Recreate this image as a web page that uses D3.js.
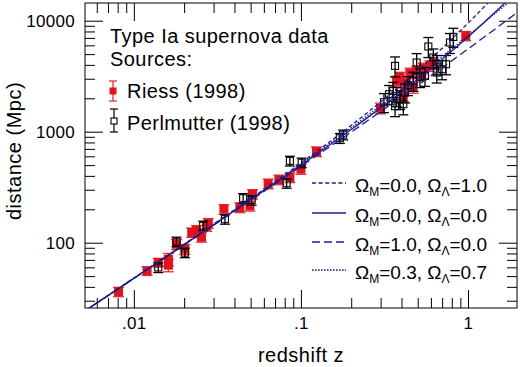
<!DOCTYPE html>
<html><head><meta charset="utf-8">
<script src="https://cdn.jsdelivr.net/npm/d3@7"></script>
<style>
html,body{margin:0;padding:0;background:#fff;}
svg{display:block;font-family:"Liberation Sans",Arial,sans-serif;}
</style></head>
<body>
<script>
// ---- data ----
const riessZ = [0.0081,0.0120,0.0140,0.0161,0.0161,0.0180,0.0202,0.0222,0.0237,0.0254,0.0273,0.0279,0.0346,0.0431,0.0495,0.0513,0.0637,0.0738,0.0859,0.100,0.124,0.299,0.374,0.392,0.420,0.449,0.493,0.528,0.540,0.592,0.620,0.470,0.410,0.970];
const riessD = [36.1,55.7,66.3,71.0,62.7,96.9,87.4,123.6,129.6,112.1,140.8,149.8,200.4,207.6,214.6,273.5,340.1,369.4,386.7,459.4,663.0,1628,2851,3097,2735,3366,3508,3296,3733,3917,4202,2503,2101,7295];
const riessErr = [3.5,5,6,9,8,10,9,12,13,11,14,15,20,21,22,27,34,37,39,46,66,180,310,330,300,370,380,360,410,430,460,280,230,700];

const perlZ = [0.0140,0.0180,0.0202,0.0260,0.0351,0.0451,0.0507,0.0821,0.0859,0.101,0.171,0.179,0.366,0.493,0.579,0.780,0.817,0.357,0.366,0.410,0.374,0.471,0.553,0.650,0.650,0.620,0.420,0.314,0.437,0.516,0.699,0.739,0.392,0.337];
const perlD = [59.8,102.1,81.3,142.3,162.8,251.7,241.5,343.6,545.8,525.7,873.9,939.7,3915,4202,5857,6363,7145,2331,1697,1769,2088,2869,3182,3415,4056,4661,2255,1845,2624,3097,3656,4056,1963,2177];
const perlErr = [6,10,8,14,16,25,24,34,55,52,90,95,800,850,1200,1300,1400,450,330,350,410,560,620,670,800,900,440,360,510,600,720,800,380,430];

const modelZ = [0.005,0.01,0.02,0.05,0.1,0.2,0.3,0.5,0.7,1.0,1.5,2.0];
const modelM0L1 = [23.88,47.98,96.90,249.4,522.5,1140,1853,3563,5653,9501,17814,28502];
const modelM0L0 = [23.81,47.74,95.95,243.5,498.8,1045,1639,2969,4489,7126,12469,19001];
const modelM1L0 = [23.78,47.62,95.48,240.4,486.4,993.3,1518,2615,3764,5565,8730,12047];
const modelM3L7 = [23.84,47.87,96.48,246.7,510.6,1087,1722,3142,4725,7329,12101,17236];

const xMajor = [0.01,0.1,1];
const xMajorLabels = [".01",".1","1"];
const yMajor = [100,1000,10000];
const yMajorLabels = ["100","1000","10000"];

// ---- layout ----
const W=523,H=367, L=85,R=517,T=3,B=308;
const svg = d3.select("body").append("svg").attr("width",W).attr("height",H);
const x = d3.scaleLog().domain([0.0051,1.965]).range([L,R]);
const y = d3.scaleLog().domain([25.8,14440]).range([B,T]);

function minors(lo,hi){const out=[];for(let e=Math.floor(Math.log10(lo));e<=Math.ceil(Math.log10(hi));e++){for(let k=2;k<=9;k++){const v=k*Math.pow(10,e);if(v>lo&&v<hi)out.push(v);}}return out;}
const xMinor = minors(0.0051,1.965);
const yMinor = minors(25.8,14440);

function styleAxis(g){g.select(".domain").remove();g.selectAll("line").attr("stroke","#000").attr("stroke-width",1);g.selectAll("text").attr("font-family","'Liberation Sans',Arial,sans-serif").attr("font-size",17).attr("letter-spacing",0.3).attr("fill","#000");}

// bottom
svg.append("g").attr("transform",`translate(0,${B})`).call(d3.axisBottom(x).tickValues(xMinor).tickSizeInner(-10).tickSizeOuter(0).tickFormat("")).call(styleAxis);
svg.append("g").attr("transform",`translate(0,${B})`).call(d3.axisBottom(x).tickValues(xMajor).tickSizeInner(-18).tickSizeOuter(0).tickPadding(9).tickFormat((d,i)=>xMajorLabels[i])).call(styleAxis);
// top
svg.append("g").attr("transform",`translate(0,${T})`).call(d3.axisTop(x).tickValues(xMinor).tickSizeInner(-10).tickSizeOuter(0).tickFormat("")).call(styleAxis);
svg.append("g").attr("transform",`translate(0,${T})`).call(d3.axisTop(x).tickValues(xMajor).tickSizeInner(-18).tickSizeOuter(0).tickFormat("")).call(styleAxis);
// left
svg.append("g").attr("transform",`translate(${L},0)`).call(d3.axisLeft(y).tickValues(yMinor).tickSizeInner(-10).tickSizeOuter(0).tickFormat("")).call(styleAxis);
svg.append("g").attr("transform",`translate(${L},0)`).call(d3.axisLeft(y).tickValues(yMajor).tickSizeInner(-18).tickSizeOuter(0).tickPadding(10).tickFormat((d,i)=>yMajorLabels[i])).call(styleAxis);
// right
svg.append("g").attr("transform",`translate(${R},0)`).call(d3.axisRight(y).tickValues(yMinor).tickSizeInner(-10).tickSizeOuter(0).tickFormat("")).call(styleAxis);
svg.append("g").attr("transform",`translate(${R},0)`).call(d3.axisRight(y).tickValues(yMajor).tickSizeInner(-18).tickSizeOuter(0).tickFormat("")).call(styleAxis);

// frame
svg.append("rect").attr("x",L).attr("y",T).attr("width",R-L).attr("height",B-T).attr("fill","none").attr("stroke","#000").attr("stroke-width",1);

// axis titles
svg.append("text").attr("x",(L+R)/2).attr("y",362).attr("text-anchor","middle").attr("font-size",20).attr("letter-spacing",0.5).text("redshift z");
svg.append("text").attr("transform","translate(21,151) rotate(-90)").attr("text-anchor","middle").attr("font-size",20).attr("letter-spacing",0.5).text("distance (Mpc)");

// clip
svg.append("clipPath").attr("id","clip").append("rect").attr("x",L).attr("y",T).attr("width",R-L).attr("height",B-T);
const plot = svg.append("g").attr("clip-path","url(#clip)");

const RED="#e3121c", REDBAR="#e03038";
function drawErr(g,zs,ds,es,color,cap){
  const dat = zs.map((z,i)=>({z,d:ds[i],e:es[i]}));
  const gg=g.append("g").attr("stroke",color).attr("stroke-width",1.3);
  gg.selectAll("line.v").data(dat).join("line").attr("x1",d=>x(d.z)).attr("x2",d=>x(d.z)).attr("y1",d=>y(d.d+d.e)).attr("y2",d=>y(Math.max(d.d-d.e,1)));
  gg.selectAll("line.t").data(dat).join("line").attr("x1",d=>x(d.z)-cap).attr("x2",d=>x(d.z)+cap).attr("y1",d=>y(d.d+d.e)).attr("y2",d=>y(d.d+d.e));
  gg.selectAll("line.b").data(dat).join("line").attr("x1",d=>x(d.z)-cap).attr("x2",d=>x(d.z)+cap).attr("y1",d=>y(d.d-d.e)).attr("y2",d=>y(d.d-d.e));
  return dat;
}
// Riess
const rd = drawErr(plot,riessZ,riessD,riessErr,REDBAR,5.5);
plot.append("g").selectAll("rect").data(rd).join("rect").attr("x",d=>x(d.z)-4.5).attr("y",d=>y(d.d)-4.5).attr("width",9).attr("height",9).attr("fill",RED);
// Perlmutter
const pd = drawErr(plot,perlZ,perlD,perlErr,"#000",5);
plot.append("g").selectAll("rect").data(pd).join("rect").attr("x",d=>x(d.z)-3.5).attr("y",d=>y(d.d)-3.5).attr("width",7).attr("height",7).attr("fill","none").attr("stroke","#000").attr("stroke-width",1.1);

// models
const BLUE="#1c1c88";
const line = d3.line().x(d=>x(d[0])).y(d=>y(d[1])).curve(d3.curveMonotoneX);
const models = [
  {v:modelM0L1,dash:"4,2.6",label:["=0.0, ","=1.0"]},
  {v:modelM0L0,dash:null,label:["=0.0, ","=0.0"]},
  {v:modelM1L0,dash:"8,4",label:["=1.0, ","=0.0"]},
  {v:modelM3L7,dash:"1.6,1.4",label:["=0.3, ","=0.7"]}
];
models.forEach(m=>{
  plot.append("path").datum(modelZ.map((z,i)=>[z,m.v[i]])).attr("d",line).attr("fill","none").attr("stroke",BLUE).attr("stroke-width",1.3).attr("stroke-dasharray",m.dash);
});

// legend top-left
svg.append("text").attr("x",110).attr("y",43).attr("font-size",20).attr("letter-spacing",0.45).text("Type Ia supernova data");
svg.append("text").attr("x",110).attr("y",66).attr("font-size",20).attr("letter-spacing",0.45).text("Sources:");
// Riess marker
const lg = svg.append("g");
lg.append("line").attr("x1",113).attr("x2",113).attr("y1",81).attr("y2",101).attr("stroke",REDBAR).attr("stroke-width",1.3);
lg.append("line").attr("x1",109).attr("x2",117).attr("y1",81).attr("y2",81).attr("stroke",REDBAR).attr("stroke-width",1.3);
lg.append("line").attr("x1",109).attr("x2",117).attr("y1",101).attr("y2",101).attr("stroke",REDBAR).attr("stroke-width",1.3);
lg.append("rect").attr("x",109.5).attr("y",87.5).attr("width",7).attr("height",7).attr("fill",RED);
svg.append("text").attr("x",127).attr("y",98).attr("font-size",20).attr("letter-spacing",0.45).text("Riess (1998)");
lg.append("line").attr("x1",114).attr("x2",114).attr("y1",109).attr("y2",132).attr("stroke","#000").attr("stroke-width",1.2);
lg.append("line").attr("x1",110).attr("x2",118).attr("y1",109).attr("y2",109).attr("stroke","#000").attr("stroke-width",1.2);
lg.append("line").attr("x1",110).attr("x2",118).attr("y1",132).attr("y2",132).attr("stroke","#000").attr("stroke-width",1.2);
lg.append("rect").attr("x",111).attr("y",118).attr("width",6).attr("height",6).attr("fill","#fff").attr("stroke","#000").attr("stroke-width",1.1);
svg.append("text").attr("x",127).attr("y",130).attr("font-size",20).attr("letter-spacing",0.45).text("Perlmutter (1998)");

// legend models
const rowsY=[183,213,242,270];
models.forEach((m,i)=>{
  svg.append("line").attr("x1",312).attr("x2",346).attr("y1",rowsY[i]).attr("y2",rowsY[i]).attr("stroke",BLUE).attr("stroke-width",1.3).attr("stroke-dasharray",m.dash);
  const t = svg.append("text").attr("x",355).attr("y",rowsY[i]+9).attr("font-size",19);
  t.append("tspan").text("Ω");
  t.append("tspan").attr("font-size",12).attr("dy",4).text("M");
  t.append("tspan").attr("dy",-4).text(m.label[0]+"Ω");
  t.append("tspan").attr("font-size",12).attr("dy",4).text("Λ");
  t.append("tspan").attr("dy",-4).text(m.label[1]);
});
</script>
</body></html>
